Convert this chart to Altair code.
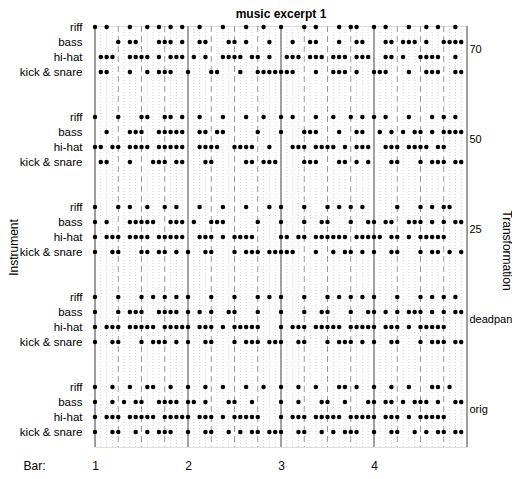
import json
import altair as alt
import pandas as pd

title_text = "music excerpt 1"
instruments = ["riff", "bass", "hi-hat", "kick & snare"]
transformations = ["70", "50", "25", "deadpan", "orig"]
bar_labels = ["1", "2", "3", "4"]

# onsets, in sixteenth-note steps counted from the start of bar 1
riff_70 = [0, 2, 6, 9, 11, 13, 15, 18, 22, 26, 29, 32, 36, 38, 42, 44, 45, 48, 50, 54, 57, 59, 62]
bass_70 = [4, 6, 7, 11, 12, 13, 15, 18, 19, 23, 24, 26, 30, 34, 37, 38, 42, 45, 46, 50, 51, 53, 54, 55, 57, 60, 61, 62, 63]
hihat_70 = [1, 2, 3, 6, 7, 8, 9, 11, 13, 14, 15, 17, 19, 22, 23, 24, 25, 27, 28, 30, 33, 34, 35, 37, 38, 39, 41, 42, 43, 45, 46, 47, 50, 51, 53, 56, 57, 58, 59, 62]
kick_70 = [1, 2, 6, 9, 11, 12, 13, 16, 20, 21, 25, 28, 29, 30, 31, 32, 33, 34, 38, 41, 42, 43, 45, 48, 49, 50, 54, 57, 58, 59, 62, 63]

riff_50 = [0, 4, 8, 9, 12, 13, 15, 18, 22, 26, 29, 32, 34, 38, 41, 44, 46, 48, 50, 54, 58, 60, 62]
bass_50 = [2, 6, 7, 8, 11, 12, 13, 14, 15, 18, 19, 21, 22, 28, 32, 36, 37, 38, 42, 45, 46, 49, 51, 53, 55, 56, 58, 60, 61, 62, 63]
hihat_50 = [0, 1, 3, 4, 6, 7, 8, 9, 11, 12, 13, 14, 15, 18, 19, 20, 21, 24, 25, 26, 27, 30, 34, 35, 36, 38, 39, 40, 41, 43, 45, 46, 47, 50, 51, 52, 54, 55, 56, 57, 59, 60]
kick_50 = [1, 2, 6, 10, 11, 12, 14, 15, 19, 20, 26, 27, 29, 30, 31, 36, 37, 38, 42, 43, 45, 47, 51, 52, 56, 58, 59, 60, 62, 63]

riff_25 = [0, 4, 6, 9, 12, 14, 18, 22, 26, 30, 32, 36, 40, 42, 44, 46, 52, 56, 58, 60, 61]
bass_25 = [0, 2, 6, 7, 8, 9, 10, 13, 14, 15, 17, 20, 21, 22, 28, 32, 36, 39, 40, 44, 47, 48, 50, 51, 54, 55, 56, 58, 60, 62, 63]
hihat_25 = [0, 2, 3, 4, 6, 7, 8, 9, 11, 12, 13, 14, 15, 18, 19, 20, 22, 24, 25, 26, 27, 32, 33, 35, 36, 38, 39, 40, 41, 42, 43, 45, 46, 47, 48, 49, 51, 52, 54, 56, 57, 58, 59, 60]
kick_25 = [0, 3, 4, 8, 9, 11, 12, 14, 16, 19, 20, 24, 26, 27, 28, 30, 31, 32, 33, 34, 38, 41, 43, 44, 46, 48, 51, 52, 56, 58, 59, 61, 63]

riff_dp = [0, 4, 8, 10, 12, 14, 16, 20, 24, 28, 30, 32, 36, 40, 42, 44, 46, 48, 52, 56, 58, 60, 62]
bass_dp = [0, 4, 6, 7, 8, 11, 12, 13, 14, 16, 18, 20, 23, 24, 28, 32, 36, 39, 40, 44, 47, 48, 50, 52, 54, 55, 56, 58, 60, 62, 63]
hihat_dp = [0, 2, 3, 4, 6, 7, 8, 9, 10, 12, 13, 14, 15, 16, 18, 19, 20, 22, 24, 25, 26, 27, 28, 32, 34, 35, 36, 38, 39, 40, 41, 42, 44, 45, 46, 47, 48, 50, 51, 52, 54, 56, 57, 58, 59, 60]
kick_dp = [0, 3, 4, 8, 10, 11, 12, 14, 16, 19, 20, 24, 26, 27, 28, 30, 31, 32, 35, 36, 40, 42, 43, 44, 46, 48, 51, 52, 56, 58, 59, 60, 62, 63]

riff_orig = [0, 3, 6, 9, 10, 13, 16, 19, 22, 26, 29, 32, 35, 38, 42, 43, 45, 48, 51, 54, 58, 59, 61]
bass_orig = [0, 3, 5, 7, 8, 11, 12, 13, 14, 16, 17, 19, 23, 24, 27, 32, 35, 39, 40, 43, 47, 48, 50, 51, 53, 55, 56, 57, 59, 62, 63]
hihat_orig = [0, 2, 3, 4, 6, 7, 8, 9, 10, 12, 13, 14, 15, 16, 18, 19, 20, 22, 24, 25, 26, 27, 28, 32, 34, 35, 36, 38, 39, 40, 41, 42, 44, 45, 46, 47, 48, 50, 51, 52, 54, 56, 57, 58, 59, 60]
kick_orig = [0, 3, 4, 7, 9, 11, 12, 13, 16, 19, 20, 23, 25, 27, 28, 30, 31, 32, 35, 36, 39, 41, 43, 44, 45, 48, 51, 52, 55, 57, 59, 60, 62, 63]

onsets = {
    "70": [riff_70, bass_70, hihat_70, kick_70],
    "50": [riff_50, bass_50, hihat_50, kick_50],
    "25": [riff_25, bass_25, hihat_25, kick_25],
    "deadpan": [riff_dp, bass_dp, hihat_dp, kick_dp],
    "orig": [riff_orig, bass_orig, hihat_orig, kick_orig],
}

STEPS_PER_BAR = 16
STEPS_PER_BEAT = 4
N_STEPS = STEPS_PER_BAR * len(bar_labels)
ROWS_PER_PANEL = 6  # 4 instruments + 2 spacer rows

rows = []
for t_idx, t in enumerate(transformations):
    for i_idx, inst in enumerate(instruments):
        for s in onsets[t][i_idx]:
            rows.append({"step": s, "row": t_idx * ROWS_PER_PANEL + i_idx,
                         "instrument": inst, "transformation": t})
notes = pd.DataFrame(rows)

bar_df = pd.DataFrame({"step": list(range(0, N_STEPS + 1, STEPS_PER_BAR))})
beat_df = pd.DataFrame({"step": [s for s in range(0, N_STEPS + 1, STEPS_PER_BEAT) if s % STEPS_PER_BAR]})
six_df = pd.DataFrame({"step": [s for s in range(N_STEPS + 1) if s % STEPS_PER_BEAT]})
panel_df = pd.DataFrame({"transformation": transformations,
                         "center": [k * ROWS_PER_PANEL + 1.5 for k in range(len(transformations))]})

FONT = "Liberation Sans"
W, H = 372, 421

x_scale = alt.Scale(domain=[0, N_STEPS], nice=False, zero=False)
y_scale = alt.Scale(domain=[-0.067, 28.0], reverse=True, nice=False, zero=False)

x_axis = alt.Axis(
    values=[b * STEPS_PER_BAR for b in range(len(bar_labels))],
    labelExpr=f"{json.dumps(bar_labels)}[datum.value / {STEPS_PER_BAR}]",
    domain=False, ticks=False, tickSize=0, grid=False,
    labelPadding=13, labelFontSize=12, labelFont=FONT, labelColor="black",
    labelAlign="center", labelFlush=False,
    title="Bar:", titleFont=FONT, titleFontSize=12, titleFontWeight="normal",
    titleColor="black", titleX=-61, titleY=13, titleAlign="center",
    titleBaseline="top", titleAngle=0,
)

left_axis = alt.Axis(
    values=[k * ROWS_PER_PANEL + i for k in range(len(transformations)) for i in range(len(instruments))],
    labelExpr=f"{json.dumps(instruments)}[datum.value % {ROWS_PER_PANEL}]",
    domain=False, ticks=False, tickSize=0, grid=False,
    labelPadding=13, labelFontSize=11.5, labelFont=FONT, labelColor="black",
    labelOverlap=False, labelFlush=False,
    title="Instrument", titleFont=FONT, titleFontSize=12, titleFontWeight="normal",
    titleColor="black", titleX=-75, titleY=221, titleAngle=270, titleBaseline="bottom",
    titleAlign="center",
)

right_axis = alt.Axis(
    orient="right",
    values=panel_df["center"].tolist(),
    labelExpr=f"{json.dumps(transformations)}[floor(datum.value / {ROWS_PER_PANEL})]",
    domain=False, ticks=False, tickSize=0, grid=False,
    labelPadding=2, labelFontSize=11, labelFont=FONT, labelColor="black",
    labelAlign="left", labelOverlap=False, labelFlush=False,
    title="Transformation", titleFont=FONT, titleFontSize=12, titleFontWeight="normal",
    titleColor="black", titleX=32, titleY=224, titleAngle=90, titleBaseline="bottom",
    titleAlign="center",
)

dotted = alt.Chart(six_df).mark_rule(color="#d2d2d2", strokeWidth=1, strokeDash=[1, 2]).encode(
    x=alt.X("step:Q", scale=x_scale, axis=x_axis))
dashed = alt.Chart(beat_df).mark_rule(color="#9a9a9a", strokeWidth=1, strokeDash=[6, 4]).encode(
    x=alt.X("step:Q", scale=x_scale, axis=x_axis))
solid = alt.Chart(bar_df).mark_rule(color="#8a8a8a", strokeWidth=1.6).encode(
    x=alt.X("step:Q", scale=x_scale, axis=x_axis))

points = alt.Chart(notes).mark_circle(color="black", size=20, opacity=1).encode(
    x=alt.X("step:Q", scale=x_scale, axis=x_axis),
    y=alt.Y("row:Q", scale=y_scale, axis=left_axis),
)

panels = alt.Chart(panel_df).mark_point(opacity=0).encode(
    y=alt.Y("center:Q", scale=y_scale, axis=right_axis),
)

chart = alt.layer(dotted, dashed, solid, points, panels).resolve_scale(
    y="independent"
).properties(
    width=W, height=H,
    title=alt.TitleParams(title_text, font=FONT, fontSize=12, fontWeight="bold",
                          color="black", anchor="middle", offset=0),
    autosize=alt.AutoSizeParams(type="none"),
    padding={"left": 87, "top": 18, "right": 45, "bottom": 24},
).configure_view(stroke=None).configure(background="white")

chart.save("out.html", embed_options={"renderer": "svg", "actions": False})
